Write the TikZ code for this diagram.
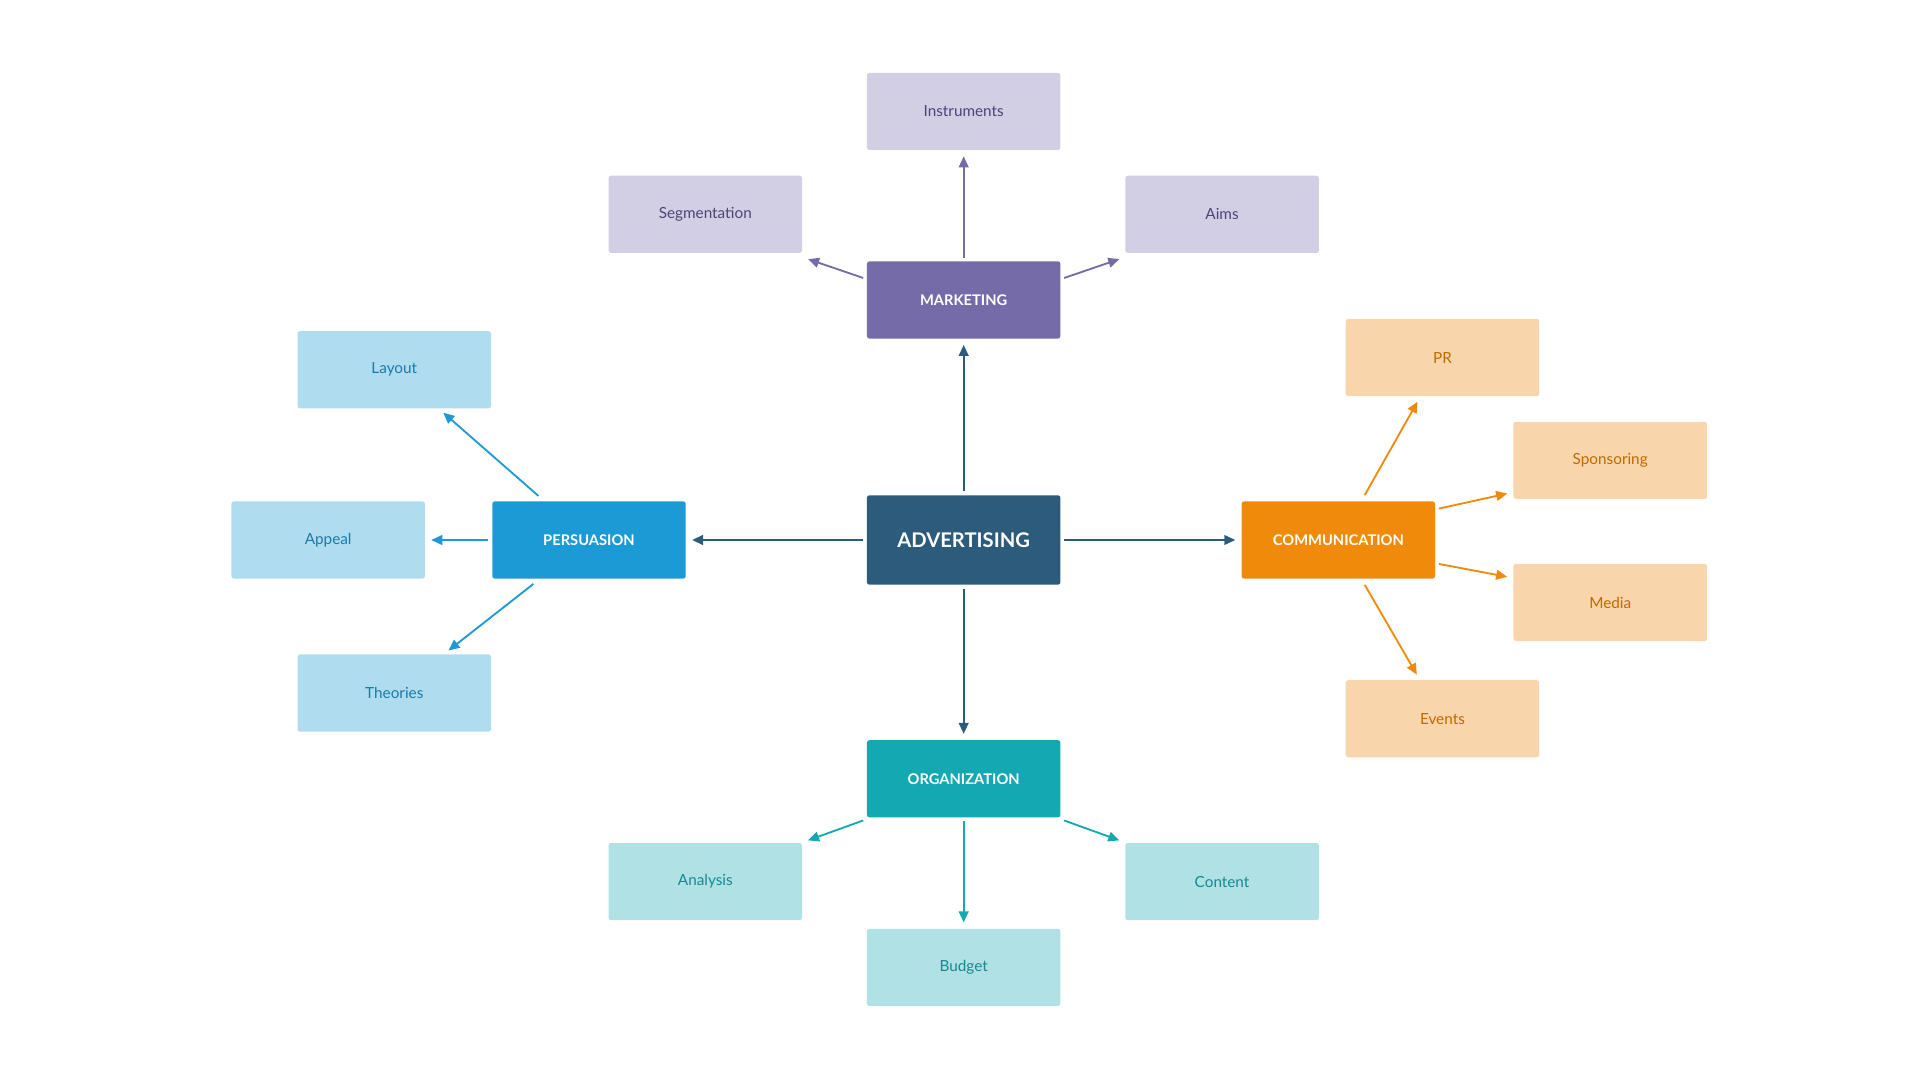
\documentclass[tikz,border=0pt]{standalone}
\usepackage{fontspec}
\setmainfont{Lato}
\usetikzlibrary{arrows.meta}
\definecolor{adv}{HTML}{2D5B7C}
\definecolor{mk}{HTML}{756BA8}\definecolor{mkl}{HTML}{D2CFE5}\definecolor{mkt}{HTML}{4B4577}
\definecolor{ps}{HTML}{1B9AD6}\definecolor{psl}{HTML}{B0DCEF}\definecolor{pst}{HTML}{1A7AAA}
\definecolor{cmc}{HTML}{F08A0B}\definecolor{cml}{HTML}{F9D5AC}\definecolor{cmt}{HTML}{C06A00}
\definecolor{og}{HTML}{14A8B3}\definecolor{ogl}{HTML}{B0E1E4}\definecolor{ogt}{HTML}{148A92}
\begin{document}
\begin{tikzpicture}[x=1pt,y=-1pt,
 box/.style={rounded corners=2pt,minimum width=158pt,minimum height=63pt,inner sep=0pt,font=\fontsize{12.5}{14}\selectfont},
 main/.style={box,font=\fontsize{12}{14}\selectfont\bfseries,text=white},
 con/.style={line width=1.5pt,-{Triangle[length=9pt,width=8pt]},shorten >=5pt,shorten <=3pt}]
\useasboundingbox (0,0) rectangle (1568,882);
\node[main,fill=adv,minimum height=73pt,font=\fontsize{16.5}{18}\selectfont\bfseries] (A) at (787,441) {ADVERTISING};
\node[main,fill=mk] (M) at (787,245) {MARKETING};
\node[box,fill=mkl,text=mkt] (M1) at (787,91) {Instruments};
\node[box,fill=mkl,text=mkt] (M2) at (576,175) {Segmentation};
\node[box,fill=mkl,text=mkt] (M3) at (998,175) {Aims};
\node[main,fill=ps] (P) at (481,441) {PERSUASION};
\node[box,fill=psl,text=pst] (P1) at (322,302) {Layout};
\node[box,fill=psl,text=pst] (P2) at (268,441) {Appeal};
\node[box,fill=psl,text=pst] (P3) at (322,566) {Theories};
\node[main,fill=cmc] (C) at (1093,441) {COMMUNICATION};
\node[box,fill=cml,text=cmt] (C1) at (1178,292) {PR};
\node[box,fill=cml,text=cmt] (C2) at (1315,376) {Sponsoring};
\node[box,fill=cml,text=cmt] (C3) at (1315,492) {Media};
\node[box,fill=cml,text=cmt] (C4) at (1178,587) {Events};
\node[main,fill=og] (O) at (787,636) {ORGANIZATION};
\node[box,fill=ogl,text=ogt] (O1) at (576,720) {Analysis};
\node[box,fill=ogl,text=ogt] (O2) at (998,720) {Content};
\node[box,fill=ogl,text=ogt] (O3) at (787,790) {Budget};
\draw[con,adv] (A) -- (M);
\draw[con,adv] (A) -- (P);
\draw[con,adv] (A) -- (C);
\draw[con,adv] (A) -- (O);
\draw[con,mk] (M) -- (M1);
\draw[con,mk] (M.west|-0,228) -- (M2.east|-0,210);
\draw[con,mk] (M.east|-0,228) -- (M3.west|-0,210);
\draw[con,ps] (442,407) -- (P1);
\draw[con,ps] (P) -- (P2);
\draw[con,ps] (438,475) -- (P3);
\draw[con,cmc] (1113,407) -- (C1);
\draw[con,cmc] (C.east|-0,416) -- (C2.west|-0,402);
\draw[con,cmc] (C.east|-0,460) -- (C3.west|-0,472);
\draw[con,cmc] (1113,475) -- (C4);
\draw[con,og] (O) -- (O3);
\draw[con,og] (O.west|-0,669) -- (O1.east|-0,688);
\draw[con,og] (O.east|-0,669) -- (O2.west|-0,688);
\end{tikzpicture}
\end{document}
